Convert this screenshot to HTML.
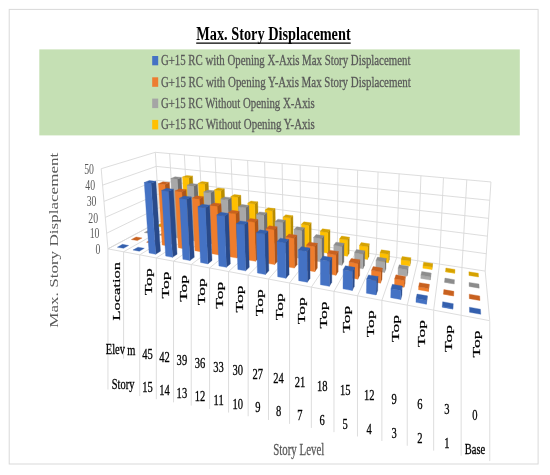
<!DOCTYPE html>
<html><head><meta charset="utf-8"><style>
html,body{margin:0;padding:0;background:#fff;}
svg{display:block}
text{font-family:'Liberation Serif',serif;stroke-width:0.3px}
</style></head><body>
<svg width="550" height="475" viewBox="0 0 550 475">
<rect x="0" y="0" width="550" height="475" fill="#fff"/>
<rect x="9.2" y="9.4" width="528.9" height="454.6" fill="#fff" stroke="#D9D9D9" stroke-width="1"/>
<text transform="translate(273.50,40.10) scale(0.765,1)" text-anchor="middle" font-size="18.7" fill="#000" stroke="none" font-weight="bold">Max. Story Displacement</text>
<line x1="196.2" y1="43.2" x2="350.7" y2="43.2" stroke="#000" stroke-width="1.2"/>
<rect x="39.3" y="49.4" width="480.5" height="86" fill="#C5E0B4"/>
<rect x="152.2" y="56" width="6" height="9.3" fill="#4472C4"/>
<rect x="152.2" y="77.3" width="6" height="9.5" fill="#ED7D31"/>
<rect x="152.2" y="98.6" width="6" height="9.5" fill="#A5A5A5"/>
<rect x="152.2" y="119.9" width="6" height="9.5" fill="#FFC000"/>
<text x="160.9" y="65.3" font-size="15.3" fill="#595959" stroke="#595959" textLength="249.5" lengthAdjust="spacingAndGlyphs">G+15 RC with Opening X-Axis Max Story Displacement</text>
<text x="160.9" y="86.5" font-size="15.3" fill="#595959" stroke="#595959" textLength="249.9" lengthAdjust="spacingAndGlyphs">G+15 RC with Opening Y-Axis Max Story Displacement</text>
<text x="160.9" y="107.8" font-size="15.3" fill="#595959" stroke="#595959" textLength="153.9" lengthAdjust="spacingAndGlyphs">G+15 RC Without Opening X-Axis</text>
<text x="160.9" y="129.1" font-size="15.3" fill="#595959" stroke="#595959" textLength="153.9" lengthAdjust="spacingAndGlyphs">G+15 RC Without Opening Y-Axis</text>
<text transform="translate(58.0,240.2) scale(0.71,1) rotate(-90)" text-anchor="middle" font-size="16.5" fill="#595959" stroke="none" textLength="175" lengthAdjust="spacingAndGlyphs">Max. Story Displacement</text>
<text x="298.75" y="454.7" text-anchor="middle" font-size="16.2" fill="#595959" stroke="#595959" textLength="51" lengthAdjust="spacingAndGlyphs">Story Level</text>
<line x1="107.96" y1="248.86" x2="159.68" y2="221.28" stroke="#D9D9D9" stroke-width="0.9"/>
<line x1="159.68" y1="221.28" x2="485.19" y2="271.08" stroke="#D9D9D9" stroke-width="0.9"/>
<line x1="106.64" y1="233.23" x2="158.83" y2="207.78" stroke="#D9D9D9" stroke-width="0.9"/>
<line x1="158.83" y1="207.78" x2="486.31" y2="253.74" stroke="#D9D9D9" stroke-width="0.9"/>
<line x1="105.31" y1="217.40" x2="157.96" y2="194.13" stroke="#D9D9D9" stroke-width="0.9"/>
<line x1="157.96" y1="194.13" x2="487.45" y2="236.17" stroke="#D9D9D9" stroke-width="0.9"/>
<line x1="103.96" y1="201.38" x2="157.09" y2="180.33" stroke="#D9D9D9" stroke-width="0.9"/>
<line x1="157.09" y1="180.33" x2="488.60" y2="218.35" stroke="#D9D9D9" stroke-width="0.9"/>
<line x1="102.59" y1="185.15" x2="156.21" y2="166.39" stroke="#D9D9D9" stroke-width="0.9"/>
<line x1="156.21" y1="166.39" x2="489.76" y2="200.28" stroke="#D9D9D9" stroke-width="0.9"/>
<line x1="101.20" y1="168.72" x2="155.31" y2="152.31" stroke="#D9D9D9" stroke-width="0.9"/>
<line x1="155.31" y1="152.31" x2="490.95" y2="181.95" stroke="#D9D9D9" stroke-width="0.9"/>
<line x1="107.96" y1="248.86" x2="101.20" y2="168.72" stroke="#D9D9D9" stroke-width="0.9"/>
<line x1="159.68" y1="221.28" x2="155.31" y2="152.31" stroke="#D9D9D9" stroke-width="0.9"/>
<line x1="107.96" y1="248.86" x2="159.68" y2="221.28" stroke="#D9D9D9" stroke-width="0.9"/>
<line x1="173.70" y1="223.43" x2="169.66" y2="153.57" stroke="#D9D9D9" stroke-width="0.9"/>
<line x1="123.59" y1="251.80" x2="173.70" y2="223.43" stroke="#D9D9D9" stroke-width="0.9"/>
<line x1="188.10" y1="225.63" x2="184.39" y2="154.87" stroke="#D9D9D9" stroke-width="0.9"/>
<line x1="139.71" y1="254.83" x2="188.10" y2="225.63" stroke="#D9D9D9" stroke-width="0.9"/>
<line x1="202.89" y1="227.89" x2="199.54" y2="156.21" stroke="#D9D9D9" stroke-width="0.9"/>
<line x1="156.34" y1="257.96" x2="202.89" y2="227.89" stroke="#D9D9D9" stroke-width="0.9"/>
<line x1="218.08" y1="230.21" x2="215.12" y2="157.59" stroke="#D9D9D9" stroke-width="0.9"/>
<line x1="173.52" y1="261.19" x2="218.08" y2="230.21" stroke="#D9D9D9" stroke-width="0.9"/>
<line x1="233.70" y1="232.60" x2="231.15" y2="159.00" stroke="#D9D9D9" stroke-width="0.9"/>
<line x1="191.26" y1="264.53" x2="233.70" y2="232.60" stroke="#D9D9D9" stroke-width="0.9"/>
<line x1="249.76" y1="235.06" x2="247.64" y2="160.46" stroke="#D9D9D9" stroke-width="0.9"/>
<line x1="209.59" y1="267.98" x2="249.76" y2="235.06" stroke="#D9D9D9" stroke-width="0.9"/>
<line x1="266.28" y1="237.59" x2="264.62" y2="161.96" stroke="#D9D9D9" stroke-width="0.9"/>
<line x1="228.56" y1="271.55" x2="266.28" y2="237.59" stroke="#D9D9D9" stroke-width="0.9"/>
<line x1="283.28" y1="240.19" x2="282.11" y2="163.50" stroke="#D9D9D9" stroke-width="0.9"/>
<line x1="248.18" y1="275.24" x2="283.28" y2="240.19" stroke="#D9D9D9" stroke-width="0.9"/>
<line x1="300.79" y1="242.87" x2="300.13" y2="165.10" stroke="#D9D9D9" stroke-width="0.9"/>
<line x1="268.49" y1="279.06" x2="300.79" y2="242.87" stroke="#D9D9D9" stroke-width="0.9"/>
<line x1="318.82" y1="245.63" x2="318.71" y2="166.74" stroke="#D9D9D9" stroke-width="0.9"/>
<line x1="289.54" y1="283.02" x2="318.82" y2="245.63" stroke="#D9D9D9" stroke-width="0.9"/>
<line x1="337.40" y1="248.47" x2="337.87" y2="168.43" stroke="#D9D9D9" stroke-width="0.9"/>
<line x1="311.36" y1="287.13" x2="337.40" y2="248.47" stroke="#D9D9D9" stroke-width="0.9"/>
<line x1="356.55" y1="251.40" x2="357.64" y2="170.18" stroke="#D9D9D9" stroke-width="0.9"/>
<line x1="333.99" y1="291.39" x2="356.55" y2="251.40" stroke="#D9D9D9" stroke-width="0.9"/>
<line x1="376.31" y1="254.42" x2="378.06" y2="171.98" stroke="#D9D9D9" stroke-width="0.9"/>
<line x1="357.48" y1="295.81" x2="376.31" y2="254.42" stroke="#D9D9D9" stroke-width="0.9"/>
<line x1="396.69" y1="257.54" x2="399.15" y2="173.84" stroke="#D9D9D9" stroke-width="0.9"/>
<line x1="381.89" y1="300.40" x2="396.69" y2="257.54" stroke="#D9D9D9" stroke-width="0.9"/>
<line x1="417.74" y1="260.76" x2="420.94" y2="175.77" stroke="#D9D9D9" stroke-width="0.9"/>
<line x1="407.26" y1="305.17" x2="417.74" y2="260.76" stroke="#D9D9D9" stroke-width="0.9"/>
<line x1="439.48" y1="264.09" x2="443.48" y2="177.76" stroke="#D9D9D9" stroke-width="0.9"/>
<line x1="433.65" y1="310.14" x2="439.48" y2="264.09" stroke="#D9D9D9" stroke-width="0.9"/>
<line x1="461.96" y1="267.52" x2="466.80" y2="179.82" stroke="#D9D9D9" stroke-width="0.9"/>
<line x1="461.13" y1="315.31" x2="461.96" y2="267.52" stroke="#D9D9D9" stroke-width="0.9"/>
<line x1="485.19" y1="271.08" x2="490.95" y2="181.95" stroke="#D9D9D9" stroke-width="0.9"/>
<line x1="489.76" y1="320.70" x2="485.19" y2="271.08" stroke="#D9D9D9" stroke-width="0.9"/>
<line x1="107.96" y1="248.86" x2="489.76" y2="320.70" stroke="#D9D9D9" stroke-width="0.9"/>
<polygon points="156.21,226.06 161.92,226.96 165.96,224.72 160.30,223.84" fill="#D6A200" stroke="#D6A200" stroke-width="0.35" stroke-linejoin="round"/>
<polygon points="170.60,228.34 176.47,229.26 180.36,226.96 174.56,226.06" fill="#D6A200" stroke="#D6A200" stroke-width="0.35" stroke-linejoin="round"/>
<polygon points="191.42,231.63 195.16,229.26 192.52,176.05 188.66,177.71" fill="#B88C00" stroke="#B88C00" stroke-width="0.35" stroke-linejoin="round"/>
<polygon points="185.39,230.67 191.42,231.63 188.66,177.71 182.52,177.05" fill="#FFC000" stroke="#FFC000" stroke-width="0.35" stroke-linejoin="round"/>
<polygon points="182.52,177.05 188.66,177.71 192.52,176.05 186.44,175.40" fill="#D6A200" stroke="#D6A200" stroke-width="0.35" stroke-linejoin="round"/>
<polygon points="206.79,234.05 210.38,231.62 208.22,182.30 204.53,184.07" fill="#B88C00" stroke="#B88C00" stroke-width="0.35" stroke-linejoin="round"/>
<polygon points="200.59,233.07 206.79,234.05 204.53,184.07 198.23,183.36" fill="#FFC000" stroke="#FFC000" stroke-width="0.35" stroke-linejoin="round"/>
<polygon points="198.23,183.36 204.53,184.07 208.22,182.30 201.98,181.60" fill="#D6A200" stroke="#D6A200" stroke-width="0.35" stroke-linejoin="round"/>
<polygon points="222.60,236.55 226.01,234.05 224.31,188.85 220.81,190.75" fill="#B88C00" stroke="#B88C00" stroke-width="0.35" stroke-linejoin="round"/>
<polygon points="216.23,235.54 222.60,236.55 220.81,190.75 214.33,189.99" fill="#FFC000" stroke="#FFC000" stroke-width="0.35" stroke-linejoin="round"/>
<polygon points="214.33,189.99 220.81,190.75 224.31,188.85 217.90,188.11" fill="#D6A200" stroke="#D6A200" stroke-width="0.35" stroke-linejoin="round"/>
<polygon points="238.87,239.12 242.10,236.55 240.80,195.27 237.50,197.29" fill="#B88C00" stroke="#B88C00" stroke-width="0.35" stroke-linejoin="round"/>
<polygon points="232.31,238.09 238.87,239.12 237.50,197.29 230.84,196.48" fill="#FFC000" stroke="#FFC000" stroke-width="0.35" stroke-linejoin="round"/>
<polygon points="230.84,196.48 237.50,197.29 240.80,195.27 234.22,194.49" fill="#D6A200" stroke="#D6A200" stroke-width="0.35" stroke-linejoin="round"/>
<polygon points="255.62,241.77 258.65,239.12 257.72,201.86 254.63,204.00" fill="#B88C00" stroke="#B88C00" stroke-width="0.35" stroke-linejoin="round"/>
<polygon points="248.86,240.70 255.62,241.77 254.63,204.00 247.78,203.14" fill="#FFC000" stroke="#FFC000" stroke-width="0.35" stroke-linejoin="round"/>
<polygon points="247.78,203.14 254.63,204.00 257.72,201.86 250.95,201.03" fill="#D6A200" stroke="#D6A200" stroke-width="0.35" stroke-linejoin="round"/>
<polygon points="272.86,244.49 275.69,241.76 275.08,208.62 272.21,210.89" fill="#B88C00" stroke="#B88C00" stroke-width="0.35" stroke-linejoin="round"/>
<polygon points="265.90,243.39 272.86,244.49 272.21,210.89 265.16,209.97" fill="#FFC000" stroke="#FFC000" stroke-width="0.35" stroke-linejoin="round"/>
<polygon points="265.16,209.97 272.21,210.89 275.08,208.62 268.12,207.73" fill="#D6A200" stroke="#D6A200" stroke-width="0.35" stroke-linejoin="round"/>
<polygon points="290.63,247.30 293.23,244.49 292.90,215.71 290.27,218.12" fill="#B88C00" stroke="#B88C00" stroke-width="0.35" stroke-linejoin="round"/>
<polygon points="283.46,246.17 290.63,247.30 290.27,218.12 283.01,217.15" fill="#FFC000" stroke="#FFC000" stroke-width="0.35" stroke-linejoin="round"/>
<polygon points="283.01,217.15 290.27,218.12 292.90,215.71 285.74,214.77" fill="#D6A200" stroke="#D6A200" stroke-width="0.35" stroke-linejoin="round"/>
<polygon points="308.94,250.19 311.31,247.29 311.20,222.84 308.81,225.39" fill="#B88C00" stroke="#B88C00" stroke-width="0.35" stroke-linejoin="round"/>
<polygon points="301.55,249.03 308.94,250.19 308.81,225.39 301.35,224.36" fill="#FFC000" stroke="#FFC000" stroke-width="0.35" stroke-linejoin="round"/>
<polygon points="301.35,224.36 308.81,225.39 311.20,222.84 303.84,221.84" fill="#D6A200" stroke="#D6A200" stroke-width="0.35" stroke-linejoin="round"/>
<polygon points="327.83,253.18 329.94,250.19 330.00,229.84 327.87,232.54" fill="#B88C00" stroke="#B88C00" stroke-width="0.35" stroke-linejoin="round"/>
<polygon points="320.20,251.97 327.83,253.18 327.87,232.54 320.19,231.45" fill="#FFC000" stroke="#FFC000" stroke-width="0.35" stroke-linejoin="round"/>
<polygon points="320.19,231.45 327.87,232.54 330.00,229.84 322.42,228.79" fill="#D6A200" stroke="#D6A200" stroke-width="0.35" stroke-linejoin="round"/>
<polygon points="347.31,256.26 349.15,253.17 349.32,237.20 347.47,240.05" fill="#B88C00" stroke="#B88C00" stroke-width="0.35" stroke-linejoin="round"/>
<polygon points="339.45,255.01 347.31,256.26 347.47,240.05 339.55,238.90" fill="#FFC000" stroke="#FFC000" stroke-width="0.35" stroke-linejoin="round"/>
<polygon points="339.55,238.90 347.47,240.05 349.32,237.20 341.52,236.09" fill="#D6A200" stroke="#D6A200" stroke-width="0.35" stroke-linejoin="round"/>
<polygon points="367.42,259.44 368.98,256.25 369.21,243.79 367.65,246.79" fill="#B88C00" stroke="#B88C00" stroke-width="0.35" stroke-linejoin="round"/>
<polygon points="359.30,258.15 367.42,259.44 367.65,246.79 359.49,245.58" fill="#FFC000" stroke="#FFC000" stroke-width="0.35" stroke-linejoin="round"/>
<polygon points="359.49,245.58 367.65,246.79 369.21,243.79 361.16,242.62" fill="#D6A200" stroke="#D6A200" stroke-width="0.35" stroke-linejoin="round"/>
<polygon points="388.19,262.72 389.44,259.43 389.66,251.07 388.42,254.23" fill="#B88C00" stroke="#B88C00" stroke-width="0.35" stroke-linejoin="round"/>
<polygon points="379.81,261.39 388.19,262.72 388.42,254.23 380.00,252.95" fill="#FFC000" stroke="#FFC000" stroke-width="0.35" stroke-linejoin="round"/>
<polygon points="380.00,252.95 388.42,254.23 389.66,251.07 381.37,249.83" fill="#D6A200" stroke="#D6A200" stroke-width="0.35" stroke-linejoin="round"/>
<polygon points="409.66,266.11 410.57,262.71 410.74,257.72 409.83,261.05" fill="#B88C00" stroke="#B88C00" stroke-width="0.35" stroke-linejoin="round"/>
<polygon points="400.99,264.74 409.66,266.11 409.83,261.05 401.14,259.71" fill="#FFC000" stroke="#FFC000" stroke-width="0.35" stroke-linejoin="round"/>
<polygon points="401.14,259.71 409.83,261.05 410.74,257.72 402.19,256.43" fill="#D6A200" stroke="#D6A200" stroke-width="0.35" stroke-linejoin="round"/>
<polygon points="431.84,269.61 432.40,266.10 432.51,263.57 431.96,267.05" fill="#B88C00" stroke="#B88C00" stroke-width="0.35" stroke-linejoin="round"/>
<polygon points="422.88,268.20 431.84,269.61 431.96,267.05 422.98,265.65" fill="#FFC000" stroke="#FFC000" stroke-width="0.35" stroke-linejoin="round"/>
<polygon points="422.98,265.65 431.96,267.05 432.51,263.57 423.68,262.22" fill="#D6A200" stroke="#D6A200" stroke-width="0.35" stroke-linejoin="round"/>
<polygon points="468.95,275.48 478.55,276.99 478.33,273.23 468.89,271.77" fill="#D6A200" stroke="#D6A200" stroke-width="0.35" stroke-linejoin="round"/>
<polygon points="445.52,271.78 454.80,273.24 454.81,273.07 445.53,271.60" fill="#FFC000" stroke="#FFC000" stroke-width="0.35" stroke-linejoin="round"/>
<polygon points="445.53,271.60 454.81,273.07 454.99,269.44 445.87,268.02" fill="#D6A200" stroke="#D6A200" stroke-width="0.35" stroke-linejoin="round"/>
<polygon points="144.26,232.55 150.12,233.53 154.47,231.11 148.67,230.16" fill="#8C8C8C" stroke="#8C8C8C" stroke-width="0.35" stroke-linejoin="round"/>
<polygon points="159.04,235.01 165.07,236.01 169.28,233.52 163.31,232.55" fill="#8C8C8C" stroke="#8C8C8C" stroke-width="0.35" stroke-linejoin="round"/>
<polygon points="180.46,238.56 184.50,236.00 181.34,177.45 177.16,179.20" fill="#6E6E6E" stroke="#6E6E6E" stroke-width="0.35" stroke-linejoin="round"/>
<polygon points="174.25,237.53 180.46,238.56 177.16,179.20 170.83,178.50" fill="#A8A8A8" stroke="#A8A8A8" stroke-width="0.35" stroke-linejoin="round"/>
<polygon points="170.83,178.50 177.16,179.20 181.34,177.45 175.08,176.76" fill="#8C8C8C" stroke="#8C8C8C" stroke-width="0.35" stroke-linejoin="round"/>
<polygon points="196.29,241.19 200.17,238.56 197.56,184.13 193.56,186.01" fill="#6E6E6E" stroke="#6E6E6E" stroke-width="0.35" stroke-linejoin="round"/>
<polygon points="189.90,240.13 196.29,241.19 193.56,186.01 187.05,185.26" fill="#A8A8A8" stroke="#A8A8A8" stroke-width="0.35" stroke-linejoin="round"/>
<polygon points="187.05,185.26 193.56,186.01 197.56,184.13 191.12,183.40" fill="#8C8C8C" stroke="#8C8C8C" stroke-width="0.35" stroke-linejoin="round"/>
<polygon points="212.60,243.90 216.29,241.19 214.20,190.84 210.40,192.84" fill="#6E6E6E" stroke="#6E6E6E" stroke-width="0.35" stroke-linejoin="round"/>
<polygon points="206.02,242.81 212.60,243.90 210.40,192.84 203.70,192.04" fill="#A8A8A8" stroke="#A8A8A8" stroke-width="0.35" stroke-linejoin="round"/>
<polygon points="203.70,192.04 210.40,192.84 214.20,190.84 207.58,190.05" fill="#8C8C8C" stroke="#8C8C8C" stroke-width="0.35" stroke-linejoin="round"/>
<polygon points="229.39,246.69 232.90,243.89 231.27,197.72 227.68,199.86" fill="#6E6E6E" stroke="#6E6E6E" stroke-width="0.35" stroke-linejoin="round"/>
<polygon points="222.62,245.56 229.39,246.69 227.68,199.86 220.79,199.00" fill="#A8A8A8" stroke="#A8A8A8" stroke-width="0.35" stroke-linejoin="round"/>
<polygon points="220.79,199.00 227.68,199.86 231.27,197.72 224.46,196.88" fill="#8C8C8C" stroke="#8C8C8C" stroke-width="0.35" stroke-linejoin="round"/>
<polygon points="246.71,249.56 250.00,246.68 248.83,205.42 245.46,207.71" fill="#6E6E6E" stroke="#6E6E6E" stroke-width="0.35" stroke-linejoin="round"/>
<polygon points="239.72,248.40 246.71,249.56 245.46,207.71 238.37,206.79" fill="#A8A8A8" stroke="#A8A8A8" stroke-width="0.35" stroke-linejoin="round"/>
<polygon points="238.37,206.79 245.46,207.71 248.83,205.42 241.82,204.53" fill="#8C8C8C" stroke="#8C8C8C" stroke-width="0.35" stroke-linejoin="round"/>
<polygon points="264.56,252.53 267.63,249.56 266.84,212.85 263.71,215.28" fill="#6E6E6E" stroke="#6E6E6E" stroke-width="0.35" stroke-linejoin="round"/>
<polygon points="257.35,251.33 264.56,252.53 263.71,215.28 256.40,214.30" fill="#A8A8A8" stroke="#A8A8A8" stroke-width="0.35" stroke-linejoin="round"/>
<polygon points="256.40,214.30 263.71,215.28 266.84,212.85 259.62,211.90" fill="#8C8C8C" stroke="#8C8C8C" stroke-width="0.35" stroke-linejoin="round"/>
<polygon points="282.97,255.58 285.80,252.52 285.34,220.15 282.46,222.74" fill="#6E6E6E" stroke="#6E6E6E" stroke-width="0.35" stroke-linejoin="round"/>
<polygon points="275.54,254.35 282.97,255.58 282.46,222.74 274.93,221.70" fill="#A8A8A8" stroke="#A8A8A8" stroke-width="0.35" stroke-linejoin="round"/>
<polygon points="274.93,221.70 282.46,222.74 285.34,220.15 277.91,219.14" fill="#8C8C8C" stroke="#8C8C8C" stroke-width="0.35" stroke-linejoin="round"/>
<polygon points="301.98,258.74 304.55,255.58 304.36,227.83 301.75,230.57" fill="#6E6E6E" stroke="#6E6E6E" stroke-width="0.35" stroke-linejoin="round"/>
<polygon points="294.30,257.46 301.98,258.74 301.75,230.57 293.99,229.47" fill="#A8A8A8" stroke="#A8A8A8" stroke-width="0.35" stroke-linejoin="round"/>
<polygon points="293.99,229.47 301.75,230.57 304.36,227.83 296.71,226.75" fill="#8C8C8C" stroke="#8C8C8C" stroke-width="0.35" stroke-linejoin="round"/>
<polygon points="321.60,262.00 323.91,258.73 323.92,235.72 321.59,238.64" fill="#6E6E6E" stroke="#6E6E6E" stroke-width="0.35" stroke-linejoin="round"/>
<polygon points="313.67,260.68 321.60,262.00 321.59,238.64 313.59,237.46" fill="#A8A8A8" stroke="#A8A8A8" stroke-width="0.35" stroke-linejoin="round"/>
<polygon points="313.59,237.46 321.59,238.64 323.92,235.72 316.03,234.58" fill="#8C8C8C" stroke="#8C8C8C" stroke-width="0.35" stroke-linejoin="round"/>
<polygon points="341.88,265.36 343.89,261.99 344.05,243.33 342.02,246.42" fill="#6E6E6E" stroke="#6E6E6E" stroke-width="0.35" stroke-linejoin="round"/>
<polygon points="333.69,264.00 341.88,265.36 342.02,246.42 333.77,245.18" fill="#A8A8A8" stroke="#A8A8A8" stroke-width="0.35" stroke-linejoin="round"/>
<polygon points="333.77,245.18 342.02,246.42 344.05,243.33 335.92,242.13" fill="#8C8C8C" stroke="#8C8C8C" stroke-width="0.35" stroke-linejoin="round"/>
<polygon points="362.84,268.84 364.54,265.36 364.78,250.84 363.07,254.10" fill="#6E6E6E" stroke="#6E6E6E" stroke-width="0.35" stroke-linejoin="round"/>
<polygon points="354.37,267.44 362.84,268.84 363.07,254.10 354.55,252.78" fill="#A8A8A8" stroke="#A8A8A8" stroke-width="0.35" stroke-linejoin="round"/>
<polygon points="354.55,252.78 363.07,254.10 364.78,250.84 356.39,249.57" fill="#8C8C8C" stroke="#8C8C8C" stroke-width="0.35" stroke-linejoin="round"/>
<polygon points="384.52,272.44 385.88,268.84 386.14,258.40 384.78,261.84" fill="#6E6E6E" stroke="#6E6E6E" stroke-width="0.35" stroke-linejoin="round"/>
<polygon points="375.76,270.99 384.52,272.44 384.78,261.84 375.98,260.45" fill="#A8A8A8" stroke="#A8A8A8" stroke-width="0.35" stroke-linejoin="round"/>
<polygon points="375.98,260.45 384.78,261.84 386.14,258.40 377.48,257.05" fill="#8C8C8C" stroke="#8C8C8C" stroke-width="0.35" stroke-linejoin="round"/>
<polygon points="406.95,276.17 407.95,272.44 408.17,266.19 407.16,269.82" fill="#6E6E6E" stroke="#6E6E6E" stroke-width="0.35" stroke-linejoin="round"/>
<polygon points="397.88,274.66 406.95,276.17 407.16,269.82 398.07,268.35" fill="#A8A8A8" stroke="#A8A8A8" stroke-width="0.35" stroke-linejoin="round"/>
<polygon points="398.07,268.35 407.16,269.82 408.17,266.19 399.22,264.77" fill="#8C8C8C" stroke="#8C8C8C" stroke-width="0.35" stroke-linejoin="round"/>
<polygon points="430.18,280.02 430.80,276.16 430.94,272.99 430.32,276.80" fill="#6E6E6E" stroke="#6E6E6E" stroke-width="0.35" stroke-linejoin="round"/>
<polygon points="420.79,278.46 430.18,280.02 430.32,276.80 420.92,275.26" fill="#A8A8A8" stroke="#A8A8A8" stroke-width="0.35" stroke-linejoin="round"/>
<polygon points="420.92,275.26 430.32,276.80 430.94,272.99 421.69,271.50" fill="#8C8C8C" stroke="#8C8C8C" stroke-width="0.35" stroke-linejoin="round"/>
<polygon points="469.12,286.49 479.22,288.16 478.97,284.01 469.06,282.40" fill="#8C8C8C" stroke="#8C8C8C" stroke-width="0.35" stroke-linejoin="round"/>
<polygon points="444.52,282.40 454.26,284.02 454.28,283.66 444.54,282.04" fill="#A8A8A8" stroke="#A8A8A8" stroke-width="0.35" stroke-linejoin="round"/>
<polygon points="444.54,282.04 454.28,283.66 454.48,279.66 444.91,278.10" fill="#8C8C8C" stroke="#8C8C8C" stroke-width="0.35" stroke-linejoin="round"/>
<polygon points="131.34,239.56 137.36,240.62 142.07,238.00 136.10,236.98" fill="#C8611F" stroke="#C8611F" stroke-width="0.35" stroke-linejoin="round"/>
<polygon points="146.53,242.22 152.74,243.31 157.29,240.61 151.15,239.56" fill="#C8611F" stroke="#C8611F" stroke-width="0.35" stroke-linejoin="round"/>
<polygon points="168.58,246.08 172.97,243.30 169.41,182.62 164.86,184.53" fill="#AD551A" stroke="#AD551A" stroke-width="0.35" stroke-linejoin="round"/>
<polygon points="162.19,244.96 168.58,246.08 164.86,184.53 158.34,183.76" fill="#EF7D2C" stroke="#EF7D2C" stroke-width="0.35" stroke-linejoin="round"/>
<polygon points="158.34,183.76 164.86,184.53 169.41,182.62 162.96,181.87" fill="#C8611F" stroke="#C8611F" stroke-width="0.35" stroke-linejoin="round"/>
<polygon points="184.90,248.93 189.11,246.07 186.16,189.66 181.81,191.70" fill="#AD551A" stroke="#AD551A" stroke-width="0.35" stroke-linejoin="round"/>
<polygon points="178.31,247.78 184.90,248.93 181.81,191.70 175.09,190.88" fill="#EF7D2C" stroke="#EF7D2C" stroke-width="0.35" stroke-linejoin="round"/>
<polygon points="175.09,190.88 181.81,191.70 186.16,189.66 179.52,188.86" fill="#C8611F" stroke="#C8611F" stroke-width="0.35" stroke-linejoin="round"/>
<polygon points="201.73,251.88 205.75,248.93 203.35,196.73 199.21,198.91" fill="#AD551A" stroke="#AD551A" stroke-width="0.35" stroke-linejoin="round"/>
<polygon points="194.94,250.69 201.73,251.88 199.21,198.91 192.30,198.03" fill="#EF7D2C" stroke="#EF7D2C" stroke-width="0.35" stroke-linejoin="round"/>
<polygon points="192.30,198.03 199.21,198.91 203.35,196.73 196.52,195.87" fill="#C8611F" stroke="#C8611F" stroke-width="0.35" stroke-linejoin="round"/>
<polygon points="219.09,254.91 222.90,251.87 221.02,203.83 217.10,206.16" fill="#AD551A" stroke="#AD551A" stroke-width="0.35" stroke-linejoin="round"/>
<polygon points="212.08,253.69 219.09,254.91 217.10,206.16 209.97,205.22" fill="#EF7D2C" stroke="#EF7D2C" stroke-width="0.35" stroke-linejoin="round"/>
<polygon points="209.97,205.22 217.10,206.16 221.02,203.83 213.98,202.92" fill="#C8611F" stroke="#C8611F" stroke-width="0.35" stroke-linejoin="round"/>
<polygon points="237.01,258.05 240.60,254.91 239.19,211.29 235.51,213.78" fill="#AD551A" stroke="#AD551A" stroke-width="0.35" stroke-linejoin="round"/>
<polygon points="229.77,256.78 237.01,258.05 235.51,213.78 228.16,212.78" fill="#EF7D2C" stroke="#EF7D2C" stroke-width="0.35" stroke-linejoin="round"/>
<polygon points="228.16,212.78 235.51,213.78 239.19,211.29 231.93,210.32" fill="#C8611F" stroke="#C8611F" stroke-width="0.35" stroke-linejoin="round"/>
<polygon points="255.50,261.28 258.85,258.04 257.89,219.47 254.47,222.13" fill="#AD551A" stroke="#AD551A" stroke-width="0.35" stroke-linejoin="round"/>
<polygon points="248.03,259.97 255.50,261.28 254.47,222.13 246.89,221.06" fill="#EF7D2C" stroke="#EF7D2C" stroke-width="0.35" stroke-linejoin="round"/>
<polygon points="246.89,221.06 254.47,222.13 257.89,219.47 250.41,218.44" fill="#C8611F" stroke="#C8611F" stroke-width="0.35" stroke-linejoin="round"/>
<polygon points="274.61,264.62 277.71,261.27 277.10,226.87 273.95,229.69" fill="#AD551A" stroke="#AD551A" stroke-width="0.35" stroke-linejoin="round"/>
<polygon points="266.89,263.27 274.61,264.62 273.95,229.69 266.13,228.55" fill="#EF7D2C" stroke="#EF7D2C" stroke-width="0.35" stroke-linejoin="round"/>
<polygon points="266.13,228.55 273.95,229.69 277.10,226.87 269.39,225.77" fill="#C8611F" stroke="#C8611F" stroke-width="0.35" stroke-linejoin="round"/>
<polygon points="294.36,268.08 297.18,264.62 296.89,235.17 294.03,238.17" fill="#AD551A" stroke="#AD551A" stroke-width="0.35" stroke-linejoin="round"/>
<polygon points="286.38,266.68 294.36,268.08 294.03,238.17 285.96,236.96" fill="#EF7D2C" stroke="#EF7D2C" stroke-width="0.35" stroke-linejoin="round"/>
<polygon points="285.96,236.96 294.03,238.17 296.89,235.17 288.93,234.00" fill="#C8611F" stroke="#C8611F" stroke-width="0.35" stroke-linejoin="round"/>
<polygon points="314.78,271.65 317.31,268.07 317.26,243.37 314.71,246.56" fill="#AD551A" stroke="#AD551A" stroke-width="0.35" stroke-linejoin="round"/>
<polygon points="306.53,270.20 314.78,271.65 314.71,246.56 306.37,245.27" fill="#EF7D2C" stroke="#EF7D2C" stroke-width="0.35" stroke-linejoin="round"/>
<polygon points="306.37,245.27 314.71,246.56 317.26,243.37 309.05,242.13" fill="#C8611F" stroke="#C8611F" stroke-width="0.35" stroke-linejoin="round"/>
<polygon points="335.92,275.34 338.13,271.64 338.25,251.47 336.03,254.85" fill="#AD551A" stroke="#AD551A" stroke-width="0.35" stroke-linejoin="round"/>
<polygon points="327.38,273.85 335.92,275.34 336.03,254.85 327.42,253.49" fill="#EF7D2C" stroke="#EF7D2C" stroke-width="0.35" stroke-linejoin="round"/>
<polygon points="327.42,253.49 336.03,254.85 338.25,251.47 329.77,250.15" fill="#C8611F" stroke="#C8611F" stroke-width="0.35" stroke-linejoin="round"/>
<polygon points="357.80,279.17 359.67,275.34 359.90,259.82 358.02,263.40" fill="#AD551A" stroke="#AD551A" stroke-width="0.35" stroke-linejoin="round"/>
<polygon points="348.95,277.62 357.80,279.17 358.02,263.40 349.12,261.96" fill="#EF7D2C" stroke="#EF7D2C" stroke-width="0.35" stroke-linejoin="round"/>
<polygon points="349.12,261.96 358.02,263.40 359.90,259.82 351.14,258.43" fill="#C8611F" stroke="#C8611F" stroke-width="0.35" stroke-linejoin="round"/>
<polygon points="380.47,283.14 381.97,279.17 382.24,268.08 380.73,271.86" fill="#AD551A" stroke="#AD551A" stroke-width="0.35" stroke-linejoin="round"/>
<polygon points="371.30,281.53 380.47,283.14 380.73,271.86 371.52,270.33" fill="#EF7D2C" stroke="#EF7D2C" stroke-width="0.35" stroke-linejoin="round"/>
<polygon points="371.52,270.33 380.73,271.86 382.24,268.08 373.18,266.60" fill="#C8611F" stroke="#C8611F" stroke-width="0.35" stroke-linejoin="round"/>
<polygon points="403.97,287.25 405.08,283.13 405.30,276.42 404.19,280.42" fill="#AD551A" stroke="#AD551A" stroke-width="0.35" stroke-linejoin="round"/>
<polygon points="394.47,285.58 403.97,287.25 404.19,280.42 394.66,278.80" fill="#EF7D2C" stroke="#EF7D2C" stroke-width="0.35" stroke-linejoin="round"/>
<polygon points="394.66,278.80 404.19,280.42 405.30,276.42 395.93,274.86" fill="#C8611F" stroke="#C8611F" stroke-width="0.35" stroke-linejoin="round"/>
<polygon points="428.35,291.51 429.03,287.24 429.16,284.29 428.48,288.51" fill="#AD551A" stroke="#AD551A" stroke-width="0.35" stroke-linejoin="round"/>
<polygon points="418.49,289.79 428.35,291.51 428.48,288.51 418.61,286.81" fill="#EF7D2C" stroke="#EF7D2C" stroke-width="0.35" stroke-linejoin="round"/>
<polygon points="418.61,286.81 428.48,288.51 429.16,284.29 419.46,282.65" fill="#C8611F" stroke="#C8611F" stroke-width="0.35" stroke-linejoin="round"/>
<polygon points="469.31,298.67 479.95,300.53 479.68,295.93 469.24,294.14" fill="#C8611F" stroke="#C8611F" stroke-width="0.35" stroke-linejoin="round"/>
<polygon points="443.42,294.15 453.66,295.94 453.67,295.75 443.43,293.96" fill="#EF7D2C" stroke="#EF7D2C" stroke-width="0.35" stroke-linejoin="round"/>
<polygon points="443.43,293.96 453.67,295.75 453.89,291.32 443.84,289.59" fill="#C8611F" stroke="#C8611F" stroke-width="0.35" stroke-linejoin="round"/>
<polygon points="117.33,247.16 123.53,248.31 128.64,245.47 122.51,244.36" fill="#3460AE" stroke="#3460AE" stroke-width="0.35" stroke-linejoin="round"/>
<polygon points="132.96,250.05 139.35,251.23 144.30,248.30 137.98,247.16" fill="#3460AE" stroke="#3460AE" stroke-width="0.35" stroke-linejoin="round"/>
<polygon points="155.67,254.25 160.44,251.23 155.98,181.29 151.00,183.27" fill="#294A8A" stroke="#294A8A" stroke-width="0.35" stroke-linejoin="round"/>
<polygon points="149.08,253.03 155.67,254.25 151.00,183.27 144.26,182.48" fill="#4472C4" stroke="#4472C4" stroke-width="0.35" stroke-linejoin="round"/>
<polygon points="144.26,182.48 151.00,183.27 155.98,181.29 149.32,180.52" fill="#3460AE" stroke="#3460AE" stroke-width="0.35" stroke-linejoin="round"/>
<polygon points="172.51,257.36 177.09,254.24 173.37,189.15 168.60,191.28" fill="#294A8A" stroke="#294A8A" stroke-width="0.35" stroke-linejoin="round"/>
<polygon points="165.71,256.10 172.51,257.36 168.60,191.28 161.65,190.42" fill="#4472C4" stroke="#4472C4" stroke-width="0.35" stroke-linejoin="round"/>
<polygon points="161.65,190.42 168.60,191.28 173.37,189.15 166.50,188.32" fill="#3460AE" stroke="#3460AE" stroke-width="0.35" stroke-linejoin="round"/>
<polygon points="189.89,260.57 194.27,257.35 191.22,196.88 186.68,199.18" fill="#294A8A" stroke="#294A8A" stroke-width="0.35" stroke-linejoin="round"/>
<polygon points="182.87,259.27 189.89,260.57 186.68,199.18 179.51,198.26" fill="#4472C4" stroke="#4472C4" stroke-width="0.35" stroke-linejoin="round"/>
<polygon points="179.51,198.26 186.68,199.18 191.22,196.88 184.13,195.99" fill="#3460AE" stroke="#3460AE" stroke-width="0.35" stroke-linejoin="round"/>
<polygon points="207.85,263.89 212.01,260.56 209.60,205.19 205.30,207.66" fill="#294A8A" stroke="#294A8A" stroke-width="0.35" stroke-linejoin="round"/>
<polygon points="200.59,262.55 207.85,263.89 205.30,207.66 197.90,206.66" fill="#4472C4" stroke="#4472C4" stroke-width="0.35" stroke-linejoin="round"/>
<polygon points="197.90,206.66 205.30,207.66 209.60,205.19 202.29,204.23" fill="#3460AE" stroke="#3460AE" stroke-width="0.35" stroke-linejoin="round"/>
<polygon points="226.40,267.32 230.33,263.88 228.49,213.38 224.45,216.03" fill="#294A8A" stroke="#294A8A" stroke-width="0.35" stroke-linejoin="round"/>
<polygon points="218.91,265.93 226.40,267.32 224.45,216.03 216.82,214.96" fill="#4472C4" stroke="#4472C4" stroke-width="0.35" stroke-linejoin="round"/>
<polygon points="216.82,214.96 224.45,216.03 228.49,213.38 220.96,212.35" fill="#3460AE" stroke="#3460AE" stroke-width="0.35" stroke-linejoin="round"/>
<polygon points="245.59,270.86 249.27,267.31 247.95,222.00 244.19,224.83" fill="#294A8A" stroke="#294A8A" stroke-width="0.35" stroke-linejoin="round"/>
<polygon points="237.84,269.43 245.59,270.86 244.19,224.83 236.31,223.69" fill="#4472C4" stroke="#4472C4" stroke-width="0.35" stroke-linejoin="round"/>
<polygon points="236.31,223.69 244.19,224.83 247.95,222.00 240.18,220.89" fill="#3460AE" stroke="#3460AE" stroke-width="0.35" stroke-linejoin="round"/>
<polygon points="265.45,274.53 268.84,270.85 268.00,231.04 264.53,234.08" fill="#294A8A" stroke="#294A8A" stroke-width="0.35" stroke-linejoin="round"/>
<polygon points="257.42,273.05 265.45,274.53 264.53,234.08 256.39,232.85" fill="#4472C4" stroke="#4472C4" stroke-width="0.35" stroke-linejoin="round"/>
<polygon points="256.39,232.85 264.53,234.08 268.00,231.04 259.97,229.86" fill="#3460AE" stroke="#3460AE" stroke-width="0.35" stroke-linejoin="round"/>
<polygon points="286.00,278.33 289.10,274.52 288.64,239.47 285.48,242.70" fill="#294A8A" stroke="#294A8A" stroke-width="0.35" stroke-linejoin="round"/>
<polygon points="277.69,276.79 286.00,278.33 285.48,242.70 277.06,241.40" fill="#4472C4" stroke="#4472C4" stroke-width="0.35" stroke-linejoin="round"/>
<polygon points="277.06,241.40 285.48,242.70 288.64,239.47 280.34,238.21" fill="#3460AE" stroke="#3460AE" stroke-width="0.35" stroke-linejoin="round"/>
<polygon points="307.29,282.26 310.07,278.32 309.92,247.97 307.10,251.41" fill="#294A8A" stroke="#294A8A" stroke-width="0.35" stroke-linejoin="round"/>
<polygon points="298.68,280.67 307.29,282.26 307.10,251.41 298.39,250.02" fill="#4472C4" stroke="#4472C4" stroke-width="0.35" stroke-linejoin="round"/>
<polygon points="298.39,250.02 307.10,251.41 309.92,247.97 301.34,246.63" fill="#3460AE" stroke="#3460AE" stroke-width="0.35" stroke-linejoin="round"/>
<polygon points="329.36,286.34 331.79,282.25 331.89,257.49 329.42,261.16" fill="#294A8A" stroke="#294A8A" stroke-width="0.35" stroke-linejoin="round"/>
<polygon points="320.43,284.69 329.36,286.34 329.42,261.16 320.41,259.68" fill="#4472C4" stroke="#4472C4" stroke-width="0.35" stroke-linejoin="round"/>
<polygon points="320.41,259.68 329.42,261.16 331.89,257.49 323.02,256.06" fill="#3460AE" stroke="#3460AE" stroke-width="0.35" stroke-linejoin="round"/>
<polygon points="352.24,290.57 354.31,286.33 354.55,267.31 352.47,271.22" fill="#294A8A" stroke="#294A8A" stroke-width="0.35" stroke-linejoin="round"/>
<polygon points="342.99,288.86 352.24,290.57 352.47,271.22 343.14,269.64" fill="#4472C4" stroke="#4472C4" stroke-width="0.35" stroke-linejoin="round"/>
<polygon points="343.14,269.64 352.47,271.22 354.55,267.31 345.38,265.78" fill="#3460AE" stroke="#3460AE" stroke-width="0.35" stroke-linejoin="round"/>
<polygon points="376.00,294.95 377.66,290.56 377.97,276.50 376.31,280.65" fill="#294A8A" stroke="#294A8A" stroke-width="0.35" stroke-linejoin="round"/>
<polygon points="366.39,293.18 376.00,294.95 376.31,280.65 366.64,278.98" fill="#4472C4" stroke="#4472C4" stroke-width="0.35" stroke-linejoin="round"/>
<polygon points="366.64,278.98 376.31,280.65 377.97,276.50 368.47,274.88" fill="#3460AE" stroke="#3460AE" stroke-width="0.35" stroke-linejoin="round"/>
<polygon points="400.67,299.51 401.90,294.95 402.19,286.01 400.96,290.41" fill="#294A8A" stroke="#294A8A" stroke-width="0.35" stroke-linejoin="round"/>
<polygon points="390.69,297.67 400.67,299.51 400.96,290.41 390.94,288.63" fill="#4472C4" stroke="#4472C4" stroke-width="0.35" stroke-linejoin="round"/>
<polygon points="390.94,288.63 400.96,290.41 402.19,286.01 392.34,284.29" fill="#3460AE" stroke="#3460AE" stroke-width="0.35" stroke-linejoin="round"/>
<polygon points="426.32,304.25 427.08,299.51 427.23,295.84 426.47,300.52" fill="#294A8A" stroke="#294A8A" stroke-width="0.35" stroke-linejoin="round"/>
<polygon points="415.94,302.33 426.32,304.25 426.47,300.52 416.08,298.62" fill="#4472C4" stroke="#4472C4" stroke-width="0.35" stroke-linejoin="round"/>
<polygon points="416.08,298.62 426.47,300.52 427.23,295.84 417.03,294.02" fill="#3460AE" stroke="#3460AE" stroke-width="0.35" stroke-linejoin="round"/>
<polygon points="469.52,312.23 480.77,314.31 480.46,309.17 469.44,307.18" fill="#3460AE" stroke="#3460AE" stroke-width="0.35" stroke-linejoin="round"/>
<polygon points="442.20,307.19 453.00,309.18 453.03,308.58 442.23,306.59" fill="#4472C4" stroke="#4472C4" stroke-width="0.35" stroke-linejoin="round"/>
<polygon points="442.23,306.59 453.03,308.58 453.27,303.66 442.68,301.74" fill="#3460AE" stroke="#3460AE" stroke-width="0.35" stroke-linejoin="round"/>
<line x1="107.96" y1="248.77" x2="107.96" y2="389.5" stroke="#D9D9D9" stroke-width="0.9"/>
<line x1="123.59" y1="251.73" x2="123.59" y2="358.6" stroke="#D9D9D9" stroke-width="0.9"/>
<line x1="139.71" y1="254.78" x2="139.71" y2="396.08" stroke="#D9D9D9" stroke-width="0.9"/>
<line x1="156.34" y1="257.94" x2="156.34" y2="399.16" stroke="#D9D9D9" stroke-width="0.9"/>
<line x1="173.52" y1="261.19" x2="173.52" y2="402.35" stroke="#D9D9D9" stroke-width="0.9"/>
<line x1="191.26" y1="264.55" x2="191.26" y2="405.64" stroke="#D9D9D9" stroke-width="0.9"/>
<line x1="209.59" y1="268.03" x2="209.59" y2="409.05" stroke="#D9D9D9" stroke-width="0.9"/>
<line x1="228.56" y1="271.62" x2="228.56" y2="412.57" stroke="#D9D9D9" stroke-width="0.9"/>
<line x1="248.18" y1="275.34" x2="248.18" y2="416.21" stroke="#D9D9D9" stroke-width="0.9"/>
<line x1="268.49" y1="279.19" x2="268.49" y2="419.98" stroke="#D9D9D9" stroke-width="0.9"/>
<line x1="289.54" y1="283.18" x2="289.54" y2="423.88" stroke="#D9D9D9" stroke-width="0.9"/>
<line x1="311.36" y1="287.31" x2="311.36" y2="427.93" stroke="#D9D9D9" stroke-width="0.9"/>
<line x1="333.99" y1="291.60" x2="333.99" y2="432.13" stroke="#D9D9D9" stroke-width="0.9"/>
<line x1="357.48" y1="296.05" x2="357.48" y2="436.49" stroke="#D9D9D9" stroke-width="0.9"/>
<line x1="381.89" y1="300.68" x2="381.89" y2="441.02" stroke="#D9D9D9" stroke-width="0.9"/>
<line x1="407.26" y1="305.48" x2="407.26" y2="445.73" stroke="#D9D9D9" stroke-width="0.9"/>
<line x1="433.65" y1="310.49" x2="433.65" y2="450.63" stroke="#D9D9D9" stroke-width="0.9"/>
<line x1="461.13" y1="315.69" x2="461.13" y2="455.73" stroke="#D9D9D9" stroke-width="0.9"/>
<line x1="489.76" y1="321.12" x2="489.76" y2="461.05" stroke="#D9D9D9" stroke-width="0.9"/>
<text transform="translate(147.53,358.51) scale(0.68,1)" text-anchor="middle" font-size="15.5" fill="#000" stroke="#000" font-weight="normal">45</text>
<text transform="translate(147.53,391.51) scale(0.68,1)" text-anchor="middle" font-size="15.5" fill="#000" stroke="#000" font-weight="normal">15</text>
<text transform="translate(152.33,268.37) scale(0.71,1) rotate(-90)" text-anchor="end" font-size="16" fill="#000" stroke="#000" textLength="27" lengthAdjust="spacingAndGlyphs">Top</text>
<text transform="translate(164.43,361.66) scale(0.68,1)" text-anchor="middle" font-size="15.5" fill="#000" stroke="#000" font-weight="normal">42</text>
<text transform="translate(164.43,394.72) scale(0.68,1)" text-anchor="middle" font-size="15.5" fill="#000" stroke="#000" font-weight="normal">14</text>
<text transform="translate(169.23,271.57) scale(0.71,1) rotate(-90)" text-anchor="end" font-size="16" fill="#000" stroke="#000" textLength="27" lengthAdjust="spacingAndGlyphs">Top</text>
<text transform="translate(181.89,364.92) scale(0.68,1)" text-anchor="middle" font-size="15.5" fill="#000" stroke="#000" font-weight="normal">39</text>
<text transform="translate(181.89,398.04) scale(0.68,1)" text-anchor="middle" font-size="15.5" fill="#000" stroke="#000" font-weight="normal">13</text>
<text transform="translate(186.69,274.88) scale(0.71,1) rotate(-90)" text-anchor="end" font-size="16" fill="#000" stroke="#000" textLength="27" lengthAdjust="spacingAndGlyphs">Top</text>
<text transform="translate(199.93,368.28) scale(0.68,1)" text-anchor="middle" font-size="15.5" fill="#000" stroke="#000" font-weight="normal">36</text>
<text transform="translate(199.93,401.47) scale(0.68,1)" text-anchor="middle" font-size="15.5" fill="#000" stroke="#000" font-weight="normal">12</text>
<text transform="translate(204.73,278.30) scale(0.71,1) rotate(-90)" text-anchor="end" font-size="16" fill="#000" stroke="#000" textLength="27" lengthAdjust="spacingAndGlyphs">Top</text>
<text transform="translate(218.58,371.76) scale(0.68,1)" text-anchor="middle" font-size="15.5" fill="#000" stroke="#000" font-weight="normal">33</text>
<text transform="translate(218.58,405.01) scale(0.68,1)" text-anchor="middle" font-size="15.5" fill="#000" stroke="#000" font-weight="normal">11</text>
<text transform="translate(223.38,281.83) scale(0.71,1) rotate(-90)" text-anchor="end" font-size="16" fill="#000" stroke="#000" textLength="27" lengthAdjust="spacingAndGlyphs">Top</text>
<text transform="translate(237.87,375.36) scale(0.68,1)" text-anchor="middle" font-size="15.5" fill="#000" stroke="#000" font-weight="normal">30</text>
<text transform="translate(237.87,408.67) scale(0.68,1)" text-anchor="middle" font-size="15.5" fill="#000" stroke="#000" font-weight="normal">10</text>
<text transform="translate(242.67,285.49) scale(0.71,1) rotate(-90)" text-anchor="end" font-size="16" fill="#000" stroke="#000" textLength="27" lengthAdjust="spacingAndGlyphs">Top</text>
<text transform="translate(257.84,379.08) scale(0.68,1)" text-anchor="middle" font-size="15.5" fill="#000" stroke="#000" font-weight="normal">27</text>
<text transform="translate(257.84,412.47) scale(0.68,1)" text-anchor="middle" font-size="15.5" fill="#000" stroke="#000" font-weight="normal">9</text>
<text transform="translate(262.64,289.27) scale(0.71,1) rotate(-90)" text-anchor="end" font-size="16" fill="#000" stroke="#000" textLength="27" lengthAdjust="spacingAndGlyphs">Top</text>
<text transform="translate(278.52,382.94) scale(0.68,1)" text-anchor="middle" font-size="15.5" fill="#000" stroke="#000" font-weight="normal">24</text>
<text transform="translate(278.52,416.40) scale(0.68,1)" text-anchor="middle" font-size="15.5" fill="#000" stroke="#000" font-weight="normal">8</text>
<text transform="translate(283.32,293.19) scale(0.71,1) rotate(-90)" text-anchor="end" font-size="16" fill="#000" stroke="#000" textLength="27" lengthAdjust="spacingAndGlyphs">Top</text>
<text transform="translate(299.95,386.94) scale(0.68,1)" text-anchor="middle" font-size="15.5" fill="#000" stroke="#000" font-weight="normal">21</text>
<text transform="translate(299.95,420.47) scale(0.68,1)" text-anchor="middle" font-size="15.5" fill="#000" stroke="#000" font-weight="normal">7</text>
<text transform="translate(304.75,297.25) scale(0.71,1) rotate(-90)" text-anchor="end" font-size="16" fill="#000" stroke="#000" textLength="27" lengthAdjust="spacingAndGlyphs">Top</text>
<text transform="translate(322.17,391.08) scale(0.68,1)" text-anchor="middle" font-size="15.5" fill="#000" stroke="#000" font-weight="normal">18</text>
<text transform="translate(322.17,424.69) scale(0.68,1)" text-anchor="middle" font-size="15.5" fill="#000" stroke="#000" font-weight="normal">6</text>
<text transform="translate(326.97,301.46) scale(0.71,1) rotate(-90)" text-anchor="end" font-size="16" fill="#000" stroke="#000" textLength="27" lengthAdjust="spacingAndGlyphs">Top</text>
<text transform="translate(345.24,395.38) scale(0.68,1)" text-anchor="middle" font-size="15.5" fill="#000" stroke="#000" font-weight="normal">15</text>
<text transform="translate(345.24,429.08) scale(0.68,1)" text-anchor="middle" font-size="15.5" fill="#000" stroke="#000" font-weight="normal">5</text>
<text transform="translate(350.04,305.83) scale(0.71,1) rotate(-90)" text-anchor="end" font-size="16" fill="#000" stroke="#000" textLength="27" lengthAdjust="spacingAndGlyphs">Top</text>
<text transform="translate(369.19,399.85) scale(0.68,1)" text-anchor="middle" font-size="15.5" fill="#000" stroke="#000" font-weight="normal">12</text>
<text transform="translate(369.19,433.63) scale(0.68,1)" text-anchor="middle" font-size="15.5" fill="#000" stroke="#000" font-weight="normal">4</text>
<text transform="translate(373.99,310.37) scale(0.71,1) rotate(-90)" text-anchor="end" font-size="16" fill="#000" stroke="#000" textLength="27" lengthAdjust="spacingAndGlyphs">Top</text>
<text transform="translate(394.07,404.49) scale(0.68,1)" text-anchor="middle" font-size="15.5" fill="#000" stroke="#000" font-weight="normal">9</text>
<text transform="translate(394.07,438.35) scale(0.68,1)" text-anchor="middle" font-size="15.5" fill="#000" stroke="#000" font-weight="normal">3</text>
<text transform="translate(398.87,315.09) scale(0.71,1) rotate(-90)" text-anchor="end" font-size="16" fill="#000" stroke="#000" textLength="27" lengthAdjust="spacingAndGlyphs">Top</text>
<text transform="translate(419.95,409.32) scale(0.68,1)" text-anchor="middle" font-size="15.5" fill="#000" stroke="#000" font-weight="normal">6</text>
<text transform="translate(419.95,443.27) scale(0.68,1)" text-anchor="middle" font-size="15.5" fill="#000" stroke="#000" font-weight="normal">2</text>
<text transform="translate(424.75,319.99) scale(0.71,1) rotate(-90)" text-anchor="end" font-size="16" fill="#000" stroke="#000" textLength="27" lengthAdjust="spacingAndGlyphs">Top</text>
<text transform="translate(446.89,414.34) scale(0.68,1)" text-anchor="middle" font-size="15.5" fill="#000" stroke="#000" font-weight="normal">3</text>
<text transform="translate(446.89,448.39) scale(0.68,1)" text-anchor="middle" font-size="15.5" fill="#000" stroke="#000" font-weight="normal">1</text>
<text transform="translate(451.69,325.10) scale(0.71,1) rotate(-90)" text-anchor="end" font-size="16" fill="#000" stroke="#000" textLength="27" lengthAdjust="spacingAndGlyphs">Top</text>
<text transform="translate(474.95,419.58) scale(0.68,1)" text-anchor="middle" font-size="15.5" fill="#000" stroke="#000" font-weight="normal">0</text>
<text transform="translate(474.95,453.72) scale(0.68,1)" text-anchor="middle" font-size="15.5" fill="#000" stroke="#000" font-weight="normal">Base</text>
<text transform="translate(479.75,330.41) scale(0.71,1) rotate(-90)" text-anchor="end" font-size="16" fill="#000" stroke="#000" textLength="27" lengthAdjust="spacingAndGlyphs">Top</text>
<text transform="translate(120.30,262.10) scale(0.71,1) rotate(-90)" text-anchor="end" font-size="16" fill="#000" stroke="#000" textLength="58.4" lengthAdjust="spacingAndGlyphs">Location</text>
<text transform="translate(115.40,353.70) scale(0.72,1)" text-anchor="middle" font-size="14.5" fill="#000" stroke="#000" font-weight="normal">Elev</text>
<text transform="translate(131.40,355.00) scale(0.72,1)" text-anchor="middle" font-size="14.5" fill="#000" stroke="#000" font-weight="normal">m</text>
<text transform="translate(123.10,388.60) scale(0.72,1)" text-anchor="middle" font-size="14.5" fill="#000" stroke="#000" font-weight="normal">Story</text>
<text transform="translate(100.50,253.80) scale(0.72,1)" text-anchor="end" font-size="13.6" fill="#595959" stroke="none" font-weight="normal">0</text>
<text transform="translate(99.40,238.30) scale(0.72,1)" text-anchor="end" font-size="13.6" fill="#595959" stroke="none" font-weight="normal">10</text>
<text transform="translate(98.10,222.70) scale(0.72,1)" text-anchor="end" font-size="13.6" fill="#595959" stroke="none" font-weight="normal">20</text>
<text transform="translate(96.50,206.40) scale(0.72,1)" text-anchor="end" font-size="13.6" fill="#595959" stroke="none" font-weight="normal">30</text>
<text transform="translate(95.10,189.90) scale(0.72,1)" text-anchor="end" font-size="13.6" fill="#595959" stroke="none" font-weight="normal">40</text>
<text transform="translate(94.00,173.60) scale(0.72,1)" text-anchor="end" font-size="13.6" fill="#595959" stroke="none" font-weight="normal">50</text>
</svg>
</body></html>
